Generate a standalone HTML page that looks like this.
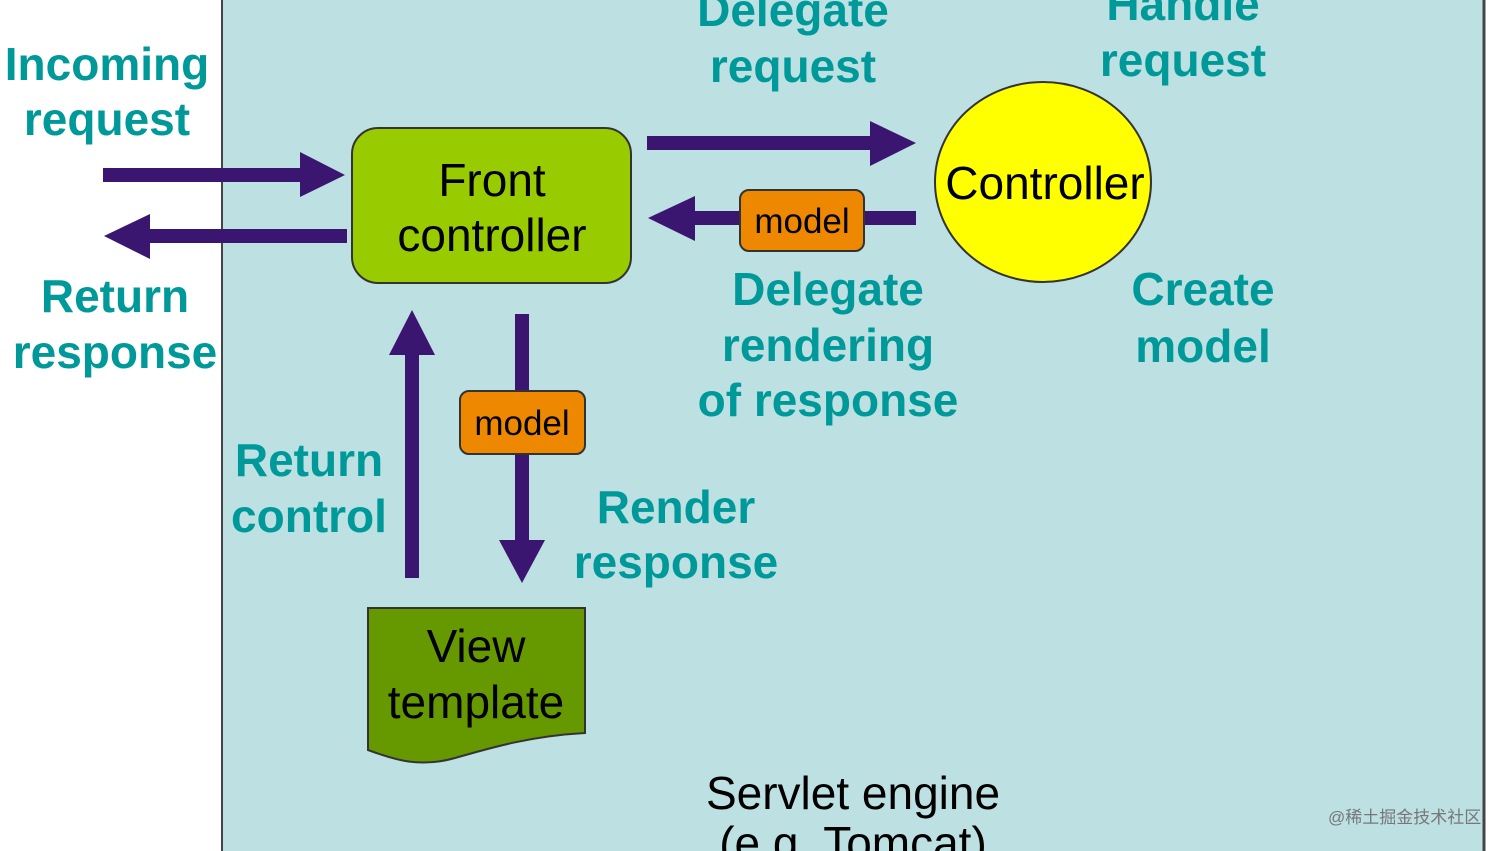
<!DOCTYPE html>
<html><head><meta charset="utf-8"><style>
html,body{margin:0;padding:0;background:#fff;width:1512px;height:851px;overflow:hidden}
svg{display:block}
.t{font-family:"Liberation Sans",sans-serif;font-weight:bold;fill:#009999;font-size:46px;text-anchor:middle}
.b{font-family:"Liberation Sans",sans-serif;fill:#000;font-size:46px;text-anchor:middle}
.m{font-family:"Liberation Sans",sans-serif;fill:#000;font-size:35px;text-anchor:middle}
</style></head><body>
<svg width="1512" height="851" viewBox="0 0 1512 851">
<rect x="222" y="-2" width="1262" height="860" fill="#bde0e3" stroke="#444" stroke-width="2"/>
<line x1="1484" y1="0" x2="1484" y2="851" stroke="#444" stroke-width="3"/>
<g fill="#3a1670">
<rect x="103" y="168" width="200" height="14"/><polygon points="300,152 345,175 300,197"/>
<rect x="148" y="229" width="199" height="14"/><polygon points="104,236 150,214 150,259"/>
<rect x="647" y="136" width="226" height="14"/><polygon points="870,121 916,143 870,166"/>
<rect x="690" y="211" width="226" height="14"/><polygon points="648,218 695,196 695,241"/>
<rect x="405" y="353" width="14" height="225"/><polygon points="412,310 435,355 389,355"/>
<rect x="515" y="314" width="14" height="228"/><polygon points="499,540 545,540 522,583"/>
</g>
<rect x="352" y="128" width="279" height="155" rx="26" fill="#99cc00" stroke="#333" stroke-width="2"/>
<text class="b" x="492" y="196">Front</text><text class="b" x="492" y="251">controller</text>
<ellipse cx="1043" cy="182" rx="108" ry="100" fill="#ffff00" stroke="#333" stroke-width="2"/>
<text class="b" x="1045" y="199">Controller</text>
<rect x="740" y="190" width="124" height="61" rx="9" fill="#ee8800" stroke="#333" stroke-width="2"/>
<text class="m" x="802" y="233">model</text>
<rect x="460" y="391" width="125" height="63" rx="9" fill="#ee8800" stroke="#333" stroke-width="2"/>
<text class="m" x="522" y="435">model</text>
<path d="M368,608 L585,608 L585,733 C530,736 490,748 455,758 C420,768 395,760 368,750 Z" fill="#669900" stroke="#333" stroke-width="2"/>
<text class="b" x="476" y="662">View</text><text class="b" x="476" y="718">template</text>
<text class="t" x="107" y="80">Incoming</text><text class="t" x="107" y="135">request</text>
<text class="t" x="115" y="312">Return</text><text class="t" x="115" y="368">response</text>
<text class="t" x="793" y="26">Delegate</text><text class="t" x="793" y="82">request</text>
<text class="t" x="1183" y="20">Handle</text><text class="t" x="1183" y="76">request</text>
<text class="t" x="828" y="305">Delegate</text><text class="t" x="828" y="361">rendering</text><text class="t" x="828" y="416">of response</text>
<text class="t" x="1203" y="305">Create</text><text class="t" x="1203" y="362">model</text>
<text class="t" x="309" y="476">Return</text><text class="t" x="309" y="532">control</text>
<text class="t" x="676" y="523">Render</text><text class="t" x="676" y="578">response</text>
<text class="b" x="853" y="809">Servlet engine</text><text class="b" x="853" y="859">(e.g. Tomcat)</text>
<text x="1328" y="823" style="font-family:'Liberation Sans','Noto Sans CJK SC',sans-serif;font-size:17px;fill:#777">@稀土掘金技术社区</text>
</svg>
</body></html>
